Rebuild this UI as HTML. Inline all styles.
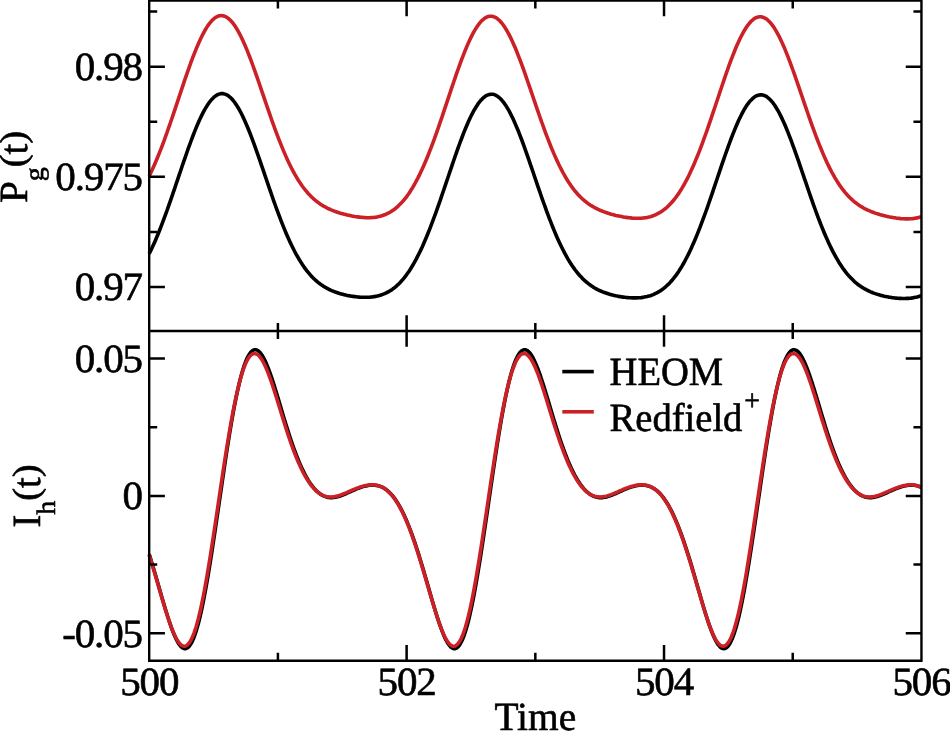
<!DOCTYPE html>
<html lang="en">
<head>
<meta charset="utf-8">
<title>HEOM vs Redfield+</title>
<style>
html,body{margin:0;padding:0;background:#fff;}
body{width:950px;height:731px;overflow:hidden;}
svg{display:block;}
text{font-family:"Liberation Serif",serif;font-size:40px;fill:#000;text-rendering:geometricPrecision;stroke:#000;stroke-width:0.6px;stroke-linejoin:round;}
.sub{font-size:26.5px;}
.sup{font-size:29px;}
.par{font-size:36.8px;}
.ax{stroke:#000;stroke-width:2.5;fill:none;stroke-linecap:butt;}
.fr{stroke:#000;stroke-width:2.4;fill:none;stroke-linejoin:miter;}
.cv{fill:none;stroke-width:3.6;stroke-linejoin:round;stroke-linecap:butt;}
</style>
</head>
<body>
<svg width="950" height="731" viewBox="0 0 950 731">
<rect width="950" height="731" fill="#fff"/>
<g>
<path class="cv" stroke="#000" d="M149.2 253.8 L150.7 250.8 L152.2 247.6 L153.7 244.3 L155.2 240.9 L156.7 237.3 L158.2 233.7 L159.7 230.0 L161.2 226.2 L162.7 222.2 L164.2 218.2 L165.7 214.1 L167.2 210.0 L168.7 205.7 L170.2 201.4 L171.7 197.1 L173.2 192.7 L174.7 188.3 L176.2 183.8 L177.7 179.4 L179.2 174.9 L180.7 170.5 L182.2 166.0 L183.7 161.6 L185.2 157.3 L186.7 153.0 L188.2 148.7 L189.7 144.6 L191.2 140.5 L192.7 136.5 L194.2 132.6 L195.7 128.9 L197.2 125.3 L198.7 121.8 L200.2 118.5 L201.7 115.4 L203.2 112.4 L204.7 109.6 L206.2 107.1 L207.7 104.7 L209.2 102.5 L210.7 100.6 L212.2 98.9 L213.7 97.4 L215.2 96.2 L216.7 95.2 L218.2 94.4 L219.7 93.9 L221.2 93.6 L222.7 93.6 L224.2 93.9 L225.7 94.4 L227.2 95.1 L228.7 96.1 L230.2 97.3 L231.7 98.8 L233.2 100.5 L234.7 102.5 L236.2 104.6 L237.7 107.0 L239.2 109.5 L240.7 112.3 L242.2 115.3 L243.7 118.4 L245.2 121.7 L246.7 125.2 L248.2 128.8 L249.7 132.5 L251.2 136.4 L252.7 140.3 L254.2 144.4 L255.7 148.6 L257.2 152.8 L258.7 157.1 L260.2 161.4 L261.7 165.8 L263.2 170.2 L264.7 174.6 L266.2 179.0 L267.7 183.4 L269.2 187.8 L270.7 192.2 L272.2 196.5 L273.7 200.8 L275.2 205.0 L276.7 209.1 L278.2 213.2 L279.7 217.2 L281.2 221.1 L282.7 224.9 L284.2 228.6 L285.7 232.2 L287.2 235.7 L288.7 239.1 L290.2 242.4 L291.7 245.5 L293.2 248.5 L294.7 251.5 L296.2 254.3 L297.7 256.9 L299.2 259.5 L300.7 261.9 L302.2 264.3 L303.7 266.5 L305.2 268.6 L306.7 270.6 L308.2 272.4 L309.7 274.2 L311.2 275.9 L312.7 277.5 L314.2 279.0 L315.7 280.3 L317.2 281.6 L318.7 282.9 L320.2 284.0 L321.7 285.1 L323.2 286.1 L324.7 287.0 L326.2 287.9 L327.7 288.7 L329.2 289.5 L330.7 290.2 L332.2 290.8 L333.7 291.4 L335.2 292.0 L336.7 292.5 L338.2 293.0 L339.7 293.5 L341.2 293.9 L342.7 294.3 L344.2 294.7 L345.7 295.1 L347.2 295.4 L348.7 295.7 L350.2 295.9 L351.7 296.2 L353.2 296.4 L354.7 296.6 L356.2 296.8 L357.7 297.0 L359.2 297.1 L360.7 297.2 L362.2 297.3 L363.7 297.3 L365.2 297.3 L366.7 297.3 L368.2 297.2 L369.7 297.2 L371.2 297.0 L372.7 296.9 L374.2 296.6 L375.7 296.4 L377.2 296.1 L378.7 295.7 L380.2 295.3 L381.7 294.8 L383.2 294.2 L384.7 293.6 L386.2 292.9 L387.7 292.1 L389.2 291.3 L390.7 290.4 L392.2 289.4 L393.7 288.3 L395.2 287.1 L396.7 285.8 L398.2 284.4 L399.7 282.9 L401.2 281.3 L402.7 279.6 L404.2 277.8 L405.7 275.9 L407.2 273.8 L408.7 271.7 L410.2 269.4 L411.7 267.0 L413.2 264.5 L414.7 261.8 L416.2 259.1 L417.7 256.2 L419.2 253.2 L420.7 250.1 L422.2 246.9 L423.7 243.5 L425.2 240.1 L426.7 236.5 L428.2 232.8 L429.7 229.1 L431.2 225.2 L432.7 221.2 L434.2 217.2 L435.7 213.1 L437.2 208.9 L438.7 204.6 L440.2 200.3 L441.7 195.9 L443.2 191.5 L444.7 187.1 L446.2 182.7 L447.7 178.2 L449.2 173.7 L450.7 169.3 L452.2 164.9 L453.7 160.5 L455.2 156.1 L456.7 151.9 L458.2 147.6 L459.7 143.5 L461.2 139.5 L462.7 135.5 L464.2 131.7 L465.7 128.0 L467.2 124.5 L468.7 121.1 L470.2 117.8 L471.7 114.8 L473.2 111.9 L474.7 109.2 L476.2 106.7 L477.7 104.4 L479.2 102.3 L480.7 100.5 L482.2 98.9 L483.7 97.5 L485.2 96.3 L486.7 95.4 L488.2 94.8 L489.7 94.4 L491.2 94.2 L492.7 94.3 L494.2 94.6 L495.7 95.2 L497.2 96.1 L498.7 97.2 L500.2 98.5 L501.7 100.1 L503.2 101.9 L504.7 103.9 L506.2 106.1 L507.7 108.6 L509.2 111.2 L510.7 114.1 L512.2 117.1 L513.7 120.3 L515.2 123.7 L516.7 127.2 L518.2 130.8 L519.7 134.6 L521.2 138.5 L522.7 142.5 L524.2 146.6 L525.7 150.8 L527.2 155.1 L528.7 159.4 L530.2 163.8 L531.7 168.1 L533.2 172.5 L534.7 177.0 L536.2 181.4 L537.7 185.8 L539.2 190.2 L540.7 194.5 L542.2 198.8 L543.7 203.0 L545.2 207.2 L546.7 211.3 L548.2 215.4 L549.7 219.3 L551.2 223.2 L552.7 227.0 L554.2 230.6 L555.7 234.2 L557.2 237.7 L558.7 241.0 L560.2 244.2 L561.7 247.3 L563.2 250.3 L564.7 253.2 L566.2 255.9 L567.7 258.6 L569.2 261.1 L570.7 263.5 L572.2 265.8 L573.7 267.9 L575.2 270.0 L576.7 271.9 L578.2 273.8 L579.7 275.5 L581.2 277.1 L582.7 278.7 L584.2 280.1 L585.7 281.5 L587.2 282.7 L588.7 283.9 L590.2 285.0 L591.7 286.1 L593.2 287.1 L594.7 288.0 L596.2 288.8 L597.7 289.6 L599.2 290.3 L600.7 291.0 L602.2 291.7 L603.7 292.3 L605.2 292.8 L606.7 293.3 L608.2 293.8 L609.7 294.3 L611.2 294.7 L612.7 295.1 L614.2 295.4 L615.7 295.8 L617.2 296.1 L618.7 296.4 L620.2 296.6 L621.7 296.9 L623.2 297.1 L624.7 297.3 L626.2 297.5 L627.7 297.6 L629.2 297.7 L630.7 297.8 L632.2 297.9 L633.7 297.9 L635.2 297.9 L636.7 297.9 L638.2 297.8 L639.7 297.7 L641.2 297.6 L642.7 297.4 L644.2 297.1 L645.7 296.8 L647.2 296.5 L648.7 296.1 L650.2 295.7 L651.7 295.2 L653.2 294.6 L654.7 293.9 L656.2 293.2 L657.7 292.4 L659.2 291.5 L660.7 290.6 L662.2 289.5 L663.7 288.4 L665.2 287.2 L666.7 285.8 L668.2 284.4 L669.7 282.9 L671.2 281.2 L672.7 279.5 L674.2 277.6 L675.7 275.7 L677.2 273.6 L678.7 271.4 L680.2 269.0 L681.7 266.6 L683.2 264.0 L684.7 261.3 L686.2 258.5 L687.7 255.6 L689.2 252.6 L690.7 249.4 L692.2 246.1 L693.7 242.7 L695.2 239.2 L696.7 235.6 L698.2 231.9 L699.7 228.1 L701.2 224.2 L702.7 220.2 L704.2 216.1 L705.7 212.0 L707.2 207.8 L708.7 203.5 L710.2 199.2 L711.7 194.8 L713.2 190.4 L714.7 185.9 L716.2 181.5 L717.7 177.0 L719.2 172.6 L720.7 168.1 L722.2 163.7 L723.7 159.3 L725.2 155.0 L726.7 150.8 L728.2 146.6 L729.7 142.5 L731.2 138.5 L732.7 134.6 L734.2 130.8 L735.7 127.2 L737.2 123.7 L738.7 120.3 L740.2 117.2 L741.7 114.2 L743.2 111.4 L744.7 108.7 L746.2 106.3 L747.7 104.1 L749.2 102.1 L750.7 100.4 L752.2 98.9 L753.7 97.6 L755.2 96.5 L756.7 95.7 L758.2 95.2 L759.7 94.9 L761.2 94.8 L762.7 95.0 L764.2 95.4 L765.7 96.1 L767.2 97.1 L768.7 98.3 L770.2 99.7 L771.7 101.4 L773.2 103.2 L774.7 105.3 L776.2 107.7 L777.7 110.2 L779.2 112.9 L780.7 115.9 L782.2 118.9 L783.7 122.2 L785.2 125.6 L786.7 129.2 L788.2 132.9 L789.7 136.8 L791.2 140.7 L792.7 144.8 L794.2 148.9 L795.7 153.1 L797.2 157.4 L798.7 161.7 L800.2 166.1 L801.7 170.5 L803.2 174.9 L804.7 179.3 L806.2 183.7 L807.7 188.1 L809.2 192.5 L810.7 196.8 L812.2 201.1 L813.7 205.3 L815.2 209.5 L816.7 213.6 L818.2 217.6 L819.7 221.5 L821.2 225.3 L822.7 229.0 L824.2 232.7 L825.7 236.2 L827.2 239.6 L828.7 242.9 L830.2 246.1 L831.7 249.1 L833.2 252.1 L834.7 254.9 L836.2 257.6 L837.7 260.2 L839.2 262.7 L840.7 265.0 L842.2 267.2 L843.7 269.4 L845.2 271.4 L846.7 273.3 L848.2 275.1 L849.7 276.8 L851.2 278.3 L852.7 279.8 L854.2 281.3 L855.7 282.6 L857.2 283.8 L858.7 285.0 L860.2 286.1 L861.7 287.1 L863.2 288.0 L864.7 288.9 L866.2 289.7 L867.7 290.5 L869.2 291.2 L870.7 291.9 L872.2 292.5 L873.7 293.1 L875.2 293.6 L876.7 294.1 L878.2 294.6 L879.7 295.0 L881.2 295.4 L882.7 295.8 L884.2 296.2 L885.7 296.5 L887.2 296.8 L888.7 297.1 L890.2 297.3 L891.7 297.6 L893.2 297.8 L894.7 298.0 L896.2 298.1 L897.7 298.2 L899.2 298.4 L900.7 298.4 L902.2 298.5 L903.7 298.5 L905.2 298.5 L906.7 298.4 L908.2 298.4 L909.7 298.2 L911.2 298.1 L912.7 297.9 L914.2 297.6 L915.7 297.3 L917.2 297.0 L918.7 296.5 L920.2 296.1 L921.5 295.6"/>
<path class="cv" stroke="#cc2027" d="M149.2 176.0 L150.7 172.9 L152.2 169.8 L153.7 166.5 L155.2 163.1 L156.7 159.5 L158.2 155.9 L159.7 152.1 L161.2 148.3 L162.7 144.3 L164.2 140.3 L165.7 136.2 L167.2 132.0 L168.7 127.7 L170.2 123.4 L171.7 119.0 L173.2 114.6 L174.7 110.1 L176.2 105.6 L177.7 101.1 L179.2 96.6 L180.7 92.1 L182.2 87.6 L183.7 83.1 L185.2 78.7 L186.7 74.4 L188.2 70.1 L189.7 65.9 L191.2 61.7 L192.7 57.7 L194.2 53.8 L195.7 50.1 L197.2 46.4 L198.7 43.0 L200.2 39.7 L201.7 36.5 L203.2 33.6 L204.7 30.8 L206.2 28.3 L207.7 25.9 L209.2 23.8 L210.7 21.9 L212.2 20.3 L213.7 18.9 L215.2 17.7 L216.7 16.8 L218.2 16.1 L219.7 15.7 L221.2 15.6 L222.7 15.7 L224.2 16.1 L225.7 16.7 L227.2 17.6 L228.7 18.7 L230.2 20.1 L231.7 21.7 L233.2 23.5 L234.7 25.6 L236.2 27.9 L237.7 30.4 L239.2 33.1 L240.7 36.0 L242.2 39.1 L243.7 42.4 L245.2 45.8 L246.7 49.4 L248.2 53.1 L249.7 57.0 L251.2 60.9 L252.7 65.0 L254.2 69.2 L255.7 73.4 L257.2 77.7 L258.7 82.0 L260.2 86.4 L261.7 90.8 L263.2 95.2 L264.7 99.6 L266.2 104.0 L267.7 108.4 L269.2 112.7 L270.7 117.0 L272.2 121.3 L273.7 125.5 L275.2 129.6 L276.7 133.6 L278.2 137.6 L279.7 141.4 L281.2 145.2 L282.7 148.9 L284.2 152.4 L285.7 155.9 L287.2 159.2 L288.7 162.4 L290.2 165.5 L291.7 168.5 L293.2 171.3 L294.7 174.1 L296.2 176.7 L297.7 179.2 L299.2 181.6 L300.7 183.8 L302.2 186.0 L303.7 188.0 L305.2 189.9 L306.7 191.7 L308.2 193.5 L309.7 195.1 L311.2 196.6 L312.7 198.0 L314.2 199.4 L315.7 200.6 L317.2 201.8 L318.7 202.9 L320.2 204.0 L321.7 205.0 L323.2 205.9 L324.7 206.7 L326.2 207.5 L327.7 208.3 L329.2 209.0 L330.7 209.7 L332.2 210.3 L333.7 210.9 L335.2 211.5 L336.7 212.0 L338.2 212.5 L339.7 213.0 L341.2 213.4 L342.7 213.8 L344.2 214.2 L345.7 214.6 L347.2 215.0 L348.7 215.3 L350.2 215.6 L351.7 215.9 L353.2 216.2 L354.7 216.5 L356.2 216.7 L357.7 216.9 L359.2 217.1 L360.7 217.3 L362.2 217.4 L363.7 217.5 L365.2 217.6 L366.7 217.7 L368.2 217.7 L369.7 217.7 L371.2 217.6 L372.7 217.5 L374.2 217.4 L375.7 217.2 L377.2 216.9 L378.7 216.6 L380.2 216.2 L381.7 215.8 L383.2 215.3 L384.7 214.8 L386.2 214.1 L387.7 213.4 L389.2 212.7 L390.7 211.8 L392.2 210.8 L393.7 209.8 L395.2 208.7 L396.7 207.4 L398.2 206.1 L399.7 204.6 L401.2 203.1 L402.7 201.4 L404.2 199.7 L405.7 197.8 L407.2 195.8 L408.7 193.7 L410.2 191.4 L411.7 189.1 L413.2 186.6 L414.7 184.0 L416.2 181.2 L417.7 178.4 L419.2 175.4 L420.7 172.3 L422.2 169.1 L423.7 165.7 L425.2 162.3 L426.7 158.7 L428.2 155.0 L429.7 151.2 L431.2 147.3 L432.7 143.3 L434.2 139.3 L435.7 135.1 L437.2 130.9 L438.7 126.6 L440.2 122.2 L441.7 117.8 L443.2 113.4 L444.7 108.9 L446.2 104.4 L447.7 99.9 L449.2 95.4 L450.7 90.9 L452.2 86.4 L453.7 82.0 L455.2 77.6 L456.7 73.2 L458.2 69.0 L459.7 64.8 L461.2 60.7 L462.7 56.8 L464.2 52.9 L465.7 49.2 L467.2 45.6 L468.7 42.2 L470.2 39.0 L471.7 35.9 L473.2 33.0 L474.7 30.4 L476.2 27.9 L477.7 25.7 L479.2 23.6 L480.7 21.8 L482.2 20.3 L483.7 19.0 L485.2 17.9 L486.7 17.1 L488.2 16.5 L489.7 16.2 L491.2 16.2 L492.7 16.4 L494.2 16.9 L495.7 17.6 L497.2 18.6 L498.7 19.8 L500.2 21.3 L501.7 23.0 L503.2 24.9 L504.7 27.1 L506.2 29.5 L507.7 32.1 L509.2 34.9 L510.7 37.9 L512.2 41.0 L513.7 44.4 L515.2 47.8 L516.7 51.5 L518.2 55.3 L519.7 59.2 L521.2 63.2 L522.7 67.2 L524.2 71.4 L525.7 75.7 L527.2 80.0 L528.7 84.3 L530.2 88.7 L531.7 93.1 L533.2 97.5 L534.7 101.9 L536.2 106.3 L537.7 110.7 L539.2 115.0 L540.7 119.3 L542.2 123.5 L543.7 127.7 L545.2 131.8 L546.7 135.8 L548.2 139.7 L549.7 143.5 L551.2 147.3 L552.7 150.9 L554.2 154.4 L555.7 157.8 L557.2 161.1 L558.7 164.3 L560.2 167.3 L561.7 170.2 L563.2 173.0 L564.7 175.7 L566.2 178.3 L567.7 180.7 L569.2 183.1 L570.7 185.3 L572.2 187.4 L573.7 189.4 L575.2 191.3 L576.7 193.0 L578.2 194.7 L579.7 196.3 L581.2 197.8 L582.7 199.2 L584.2 200.5 L585.7 201.7 L587.2 202.9 L588.7 204.0 L590.2 205.0 L591.7 205.9 L593.2 206.8 L594.7 207.7 L596.2 208.4 L597.7 209.2 L599.2 209.9 L600.7 210.5 L602.2 211.1 L603.7 211.7 L605.2 212.3 L606.7 212.8 L608.2 213.3 L609.7 213.7 L611.2 214.2 L612.7 214.6 L614.2 215.0 L615.7 215.4 L617.2 215.7 L618.7 216.0 L620.2 216.3 L621.7 216.6 L623.2 216.9 L624.7 217.2 L626.2 217.4 L627.7 217.6 L629.2 217.8 L630.7 217.9 L632.2 218.1 L633.7 218.2 L635.2 218.2 L636.7 218.3 L638.2 218.3 L639.7 218.2 L641.2 218.2 L642.7 218.0 L644.2 217.9 L645.7 217.7 L647.2 217.4 L648.7 217.1 L650.2 216.7 L651.7 216.2 L653.2 215.7 L654.7 215.1 L656.2 214.5 L657.7 213.7 L659.2 212.9 L660.7 212.0 L662.2 211.0 L663.7 209.9 L665.2 208.8 L666.7 207.5 L668.2 206.1 L669.7 204.6 L671.2 203.0 L672.7 201.3 L674.2 199.5 L675.7 197.6 L677.2 195.5 L678.7 193.4 L680.2 191.1 L681.7 188.7 L683.2 186.1 L684.7 183.5 L686.2 180.7 L687.7 177.8 L689.2 174.8 L690.7 171.6 L692.2 168.3 L693.7 164.9 L695.2 161.4 L696.7 157.8 L698.2 154.1 L699.7 150.3 L701.2 146.3 L702.7 142.3 L704.2 138.2 L705.7 134.0 L707.2 129.8 L708.7 125.4 L710.2 121.1 L711.7 116.6 L713.2 112.2 L714.7 107.7 L716.2 103.2 L717.7 98.7 L719.2 94.2 L720.7 89.7 L722.2 85.2 L723.7 80.8 L725.2 76.4 L726.7 72.1 L728.2 67.9 L729.7 63.7 L731.2 59.7 L732.7 55.8 L734.2 52.0 L735.7 48.3 L737.2 44.8 L738.7 41.5 L740.2 38.3 L741.7 35.3 L743.2 32.5 L744.7 29.9 L746.2 27.6 L747.7 25.4 L749.2 23.5 L750.7 21.8 L752.2 20.3 L753.7 19.1 L755.2 18.1 L756.7 17.4 L758.2 17.0 L759.7 16.8 L761.2 16.8 L762.7 17.2 L764.2 17.7 L765.7 18.6 L767.2 19.6 L768.7 21.0 L770.2 22.5 L771.7 24.3 L773.2 26.4 L774.7 28.6 L776.2 31.1 L777.7 33.8 L779.2 36.6 L780.7 39.7 L782.2 42.9 L783.7 46.3 L785.2 49.9 L786.7 53.6 L788.2 57.4 L789.7 61.3 L791.2 65.4 L792.7 69.5 L794.2 73.7 L795.7 78.0 L797.2 82.3 L798.7 86.7 L800.2 91.1 L801.7 95.5 L803.2 99.9 L804.7 104.3 L806.2 108.7 L807.7 113.0 L809.2 117.3 L810.7 121.6 L812.2 125.8 L813.7 129.9 L815.2 134.0 L816.7 138.0 L818.2 141.9 L819.7 145.6 L821.2 149.3 L822.7 152.9 L824.2 156.4 L825.7 159.7 L827.2 163.0 L828.7 166.1 L830.2 169.1 L831.7 172.0 L833.2 174.7 L834.7 177.4 L836.2 179.9 L837.7 182.3 L839.2 184.6 L840.7 186.7 L842.2 188.8 L843.7 190.7 L845.2 192.6 L846.7 194.3 L848.2 195.9 L849.7 197.5 L851.2 198.9 L852.7 200.3 L854.2 201.6 L855.7 202.8 L857.2 203.9 L858.7 205.0 L860.2 206.0 L861.7 206.9 L863.2 207.8 L864.7 208.6 L866.2 209.3 L867.7 210.1 L869.2 210.7 L870.7 211.4 L872.2 212.0 L873.7 212.5 L875.2 213.1 L876.7 213.6 L878.2 214.0 L879.7 214.5 L881.2 214.9 L882.7 215.3 L884.2 215.7 L885.7 216.1 L887.2 216.4 L888.7 216.8 L890.2 217.1 L891.7 217.3 L893.2 217.6 L894.7 217.8 L896.2 218.1 L897.7 218.3 L899.2 218.4 L900.7 218.6 L902.2 218.7 L903.7 218.8 L905.2 218.9 L906.7 218.9 L908.2 218.9 L909.7 218.8 L911.2 218.7 L912.7 218.6 L914.2 218.4 L915.7 218.1 L917.2 217.9 L918.7 217.5 L920.2 217.1 L921.5 216.7"/>
</g>
<g>
<path class="cv" stroke="#000" d="M149.2 554.2 L150.2 557.4 L151.2 560.7 L152.2 564.0 L153.2 567.3 L154.2 570.7 L155.2 574.1 L156.2 577.6 L157.2 581.0 L158.2 584.5 L159.2 588.0 L160.2 591.5 L161.2 594.9 L162.2 598.4 L163.2 601.8 L164.2 605.2 L165.2 608.5 L166.2 611.8 L167.2 615.1 L168.2 618.2 L169.2 621.3 L170.2 624.2 L171.2 627.1 L172.2 629.8 L173.2 632.4 L174.2 634.8 L175.2 637.1 L176.2 639.2 L177.2 641.1 L178.2 642.9 L179.2 644.4 L180.2 645.7 L181.2 646.8 L182.2 647.6 L183.2 648.2 L184.2 648.6 L185.2 648.7 L186.2 648.5 L187.2 648.0 L188.2 647.3 L189.2 646.2 L190.2 644.9 L191.2 643.3 L192.2 641.4 L193.2 639.3 L194.2 636.8 L195.2 634.0 L196.2 631.0 L197.2 627.6 L198.2 624.0 L199.2 620.2 L200.2 616.0 L201.2 611.6 L202.2 607.0 L203.2 602.1 L204.2 597.0 L205.2 591.7 L206.2 586.2 L207.2 580.5 L208.2 574.6 L209.2 568.6 L210.2 562.4 L211.2 556.1 L212.2 549.7 L213.2 543.1 L214.2 536.5 L215.2 529.8 L216.2 523.1 L217.2 516.3 L218.2 509.5 L219.2 502.6 L220.2 495.8 L221.2 488.9 L222.2 482.0 L223.2 475.2 L224.2 468.4 L225.2 461.7 L226.2 455.1 L227.2 448.6 L228.2 442.2 L229.2 436.0 L230.2 429.9 L231.2 424.0 L232.2 418.2 L233.2 412.6 L234.2 407.2 L235.2 402.1 L236.2 397.1 L237.2 392.3 L238.2 387.8 L239.2 383.5 L240.2 379.4 L241.2 375.6 L242.2 372.0 L243.2 368.7 L244.2 365.6 L245.2 362.9 L246.2 360.3 L247.2 358.1 L248.2 356.1 L249.2 354.4 L250.2 352.9 L251.2 351.8 L252.2 350.9 L253.2 350.2 L254.2 349.8 L255.2 349.7 L256.2 349.8 L257.2 350.2 L258.2 350.8 L259.2 351.6 L260.2 352.7 L261.2 354.0 L262.2 355.5 L263.2 357.1 L264.2 359.0 L265.2 361.1 L266.2 363.3 L267.2 365.6 L268.2 368.1 L269.2 370.8 L270.2 373.5 L271.2 376.4 L272.2 379.4 L273.2 382.4 L274.2 385.6 L275.2 388.8 L276.2 392.0 L277.2 395.3 L278.2 398.6 L279.2 402.0 L280.2 405.3 L281.2 408.7 L282.2 412.0 L283.2 415.4 L284.2 418.7 L285.2 422.0 L286.2 425.2 L287.2 428.4 L288.2 431.6 L289.2 434.7 L290.2 437.8 L291.2 440.8 L292.2 443.7 L293.2 446.5 L294.2 449.3 L295.2 452.0 L296.2 454.7 L297.2 457.2 L298.2 459.7 L299.2 462.1 L300.2 464.4 L301.2 466.7 L302.2 468.9 L303.2 470.9 L304.2 472.9 L305.2 474.8 L306.2 476.7 L307.2 478.4 L308.2 480.1 L309.2 481.7 L310.2 483.2 L311.2 484.6 L312.2 486.0 L313.2 487.2 L314.2 488.4 L315.2 489.5 L316.2 490.6 L317.2 491.5 L318.2 492.4 L319.2 493.2 L320.2 494.0 L321.2 494.6 L322.2 495.2 L323.2 495.8 L324.2 496.2 L325.2 496.6 L326.2 496.9 L327.2 497.2 L328.2 497.4 L329.2 497.5 L330.2 497.6 L331.2 497.6 L332.2 497.6 L333.2 497.5 L334.2 497.4 L335.2 497.3 L336.2 497.1 L337.2 496.9 L338.2 496.6 L339.2 496.3 L340.2 496.0 L341.2 495.6 L342.2 495.3 L343.2 494.9 L344.2 494.4 L345.2 494.0 L346.2 493.6 L347.2 493.1 L348.2 492.7 L349.2 492.2 L350.2 491.8 L351.2 491.3 L352.2 490.9 L353.2 490.4 L354.2 490.0 L355.2 489.6 L356.2 489.1 L357.2 488.7 L358.2 488.3 L359.2 488.0 L360.2 487.6 L361.2 487.3 L362.2 486.9 L363.2 486.6 L364.2 486.3 L365.2 486.1 L366.2 485.9 L367.2 485.7 L368.2 485.5 L369.2 485.3 L370.2 485.2 L371.2 485.2 L372.2 485.1 L373.2 485.1 L374.2 485.2 L375.2 485.2 L376.2 485.4 L377.2 485.5 L378.2 485.8 L379.2 486.0 L380.2 486.4 L381.2 486.8 L382.2 487.2 L383.2 487.7 L384.2 488.3 L385.2 488.9 L386.2 489.6 L387.2 490.4 L388.2 491.3 L389.2 492.2 L390.2 493.2 L391.2 494.3 L392.2 495.4 L393.2 496.6 L394.2 497.9 L395.2 499.3 L396.2 500.8 L397.2 502.3 L398.2 503.9 L399.2 505.6 L400.2 507.4 L401.2 509.3 L402.2 511.2 L403.2 513.2 L404.2 515.3 L405.2 517.5 L406.2 519.8 L407.2 522.2 L408.2 524.6 L409.2 527.1 L410.2 529.7 L411.2 532.4 L412.2 535.1 L413.2 537.9 L414.2 540.8 L415.2 543.7 L416.2 546.7 L417.2 549.8 L418.2 552.9 L419.2 556.1 L420.2 559.4 L421.2 562.7 L422.2 566.0 L423.2 569.3 L424.2 572.8 L425.2 576.2 L426.2 579.6 L427.2 583.1 L428.2 586.6 L429.2 590.1 L430.2 593.5 L431.2 597.0 L432.2 600.4 L433.2 603.8 L434.2 607.2 L435.2 610.5 L436.2 613.8 L437.2 617.0 L438.2 620.0 L439.2 623.0 L440.2 625.9 L441.2 628.7 L442.2 631.4 L443.2 633.9 L444.2 636.2 L445.2 638.4 L446.2 640.4 L447.2 642.2 L448.2 643.8 L449.2 645.2 L450.2 646.4 L451.2 647.3 L452.2 648.0 L453.2 648.5 L454.2 648.7 L455.2 648.6 L456.2 648.2 L457.2 647.6 L458.2 646.7 L459.2 645.5 L460.2 644.0 L461.2 642.2 L462.2 640.2 L463.2 637.8 L464.2 635.2 L465.2 632.2 L466.2 629.0 L467.2 625.5 L468.2 621.7 L469.2 617.7 L470.2 613.4 L471.2 608.9 L472.2 604.1 L473.2 599.1 L474.2 593.9 L475.2 588.4 L476.2 582.8 L477.2 577.0 L478.2 571.0 L479.2 564.9 L480.2 558.6 L481.2 552.3 L482.2 545.8 L483.2 539.2 L484.2 532.5 L485.2 525.8 L486.2 519.0 L487.2 512.2 L488.2 505.4 L489.2 498.5 L490.2 491.7 L491.2 484.8 L492.2 477.9 L493.2 471.1 L494.2 464.4 L495.2 457.7 L496.2 451.2 L497.2 444.8 L498.2 438.5 L499.2 432.3 L500.2 426.3 L501.2 420.5 L502.2 414.8 L503.2 409.4 L504.2 404.1 L505.2 399.0 L506.2 394.2 L507.2 389.6 L508.2 385.1 L509.2 381.0 L510.2 377.1 L511.2 373.4 L512.2 370.0 L513.2 366.8 L514.2 363.9 L515.2 361.3 L516.2 359.0 L517.2 356.9 L518.2 355.0 L519.2 353.5 L520.2 352.2 L521.2 351.2 L522.2 350.5 L523.2 350.0 L524.2 349.7 L525.2 349.8 L526.2 350.0 L527.2 350.5 L528.2 351.3 L529.2 352.3 L530.2 353.4 L531.2 354.8 L532.2 356.4 L533.2 358.2 L534.2 360.2 L535.2 362.4 L536.2 364.7 L537.2 367.1 L538.2 369.7 L539.2 372.4 L540.2 375.2 L541.2 378.2 L542.2 381.2 L543.2 384.3 L544.2 387.5 L545.2 390.7 L546.2 394.0 L547.2 397.3 L548.2 400.6 L549.2 404.0 L550.2 407.3 L551.2 410.7 L552.2 414.0 L553.2 417.4 L554.2 420.7 L555.2 423.9 L556.2 427.2 L557.2 430.3 L558.2 433.5 L559.2 436.5 L560.2 439.6 L561.2 442.5 L562.2 445.4 L563.2 448.2 L564.2 451.0 L565.2 453.6 L566.2 456.2 L567.2 458.7 L568.2 461.2 L569.2 463.5 L570.2 465.8 L571.2 468.0 L572.2 470.1 L573.2 472.1 L574.2 474.1 L575.2 476.0 L576.2 477.7 L577.2 479.4 L578.2 481.1 L579.2 482.6 L580.2 484.1 L581.2 485.4 L582.2 486.7 L583.2 488.0 L584.2 489.1 L585.2 490.2 L586.2 491.2 L587.2 492.1 L588.2 492.9 L589.2 493.7 L590.2 494.4 L591.2 495.0 L592.2 495.6 L593.2 496.0 L594.2 496.4 L595.2 496.8 L596.2 497.1 L597.2 497.3 L598.2 497.5 L599.2 497.6 L600.2 497.6 L601.2 497.6 L602.2 497.6 L603.2 497.5 L604.2 497.3 L605.2 497.2 L606.2 497.0 L607.2 496.7 L608.2 496.4 L609.2 496.1 L610.2 495.8 L611.2 495.4 L612.2 495.0 L613.2 494.6 L614.2 494.2 L615.2 493.8 L616.2 493.3 L617.2 492.9 L618.2 492.4 L619.2 492.0 L620.2 491.5 L621.2 491.1 L622.2 490.6 L623.2 490.2 L624.2 489.7 L625.2 489.3 L626.2 488.9 L627.2 488.5 L628.2 488.1 L629.2 487.7 L630.2 487.4 L631.2 487.1 L632.2 486.7 L633.2 486.5 L634.2 486.2 L635.2 485.9 L636.2 485.7 L637.2 485.5 L638.2 485.4 L639.2 485.3 L640.2 485.2 L641.2 485.1 L642.2 485.1 L643.2 485.1 L644.2 485.2 L645.2 485.3 L646.2 485.5 L647.2 485.7 L648.2 485.9 L649.2 486.2 L650.2 486.6 L651.2 487.0 L652.2 487.5 L653.2 488.1 L654.2 488.7 L655.2 489.4 L656.2 490.1 L657.2 490.9 L658.2 491.8 L659.2 492.8 L660.2 493.8 L661.2 494.9 L662.2 496.1 L663.2 497.4 L664.2 498.7 L665.2 500.2 L666.2 501.7 L667.2 503.3 L668.2 504.9 L669.2 506.7 L670.2 508.5 L671.2 510.4 L672.2 512.4 L673.2 514.5 L674.2 516.7 L675.2 518.9 L676.2 521.2 L677.2 523.6 L678.2 526.1 L679.2 528.7 L680.2 531.3 L681.2 534.0 L682.2 536.8 L683.2 539.6 L684.2 542.6 L685.2 545.5 L686.2 548.6 L687.2 551.7 L688.2 554.8 L689.2 558.1 L690.2 561.3 L691.2 564.6 L692.2 568.0 L693.2 571.4 L694.2 574.8 L695.2 578.3 L696.2 581.7 L697.2 585.2 L698.2 588.7 L699.2 592.1 L700.2 595.6 L701.2 599.1 L702.2 602.5 L703.2 605.9 L704.2 609.2 L705.2 612.5 L706.2 615.7 L707.2 618.8 L708.2 621.9 L709.2 624.8 L710.2 627.6 L711.2 630.3 L712.2 632.9 L713.2 635.3 L714.2 637.5 L715.2 639.6 L716.2 641.5 L717.2 643.2 L718.2 644.7 L719.2 645.9 L720.2 647.0 L721.2 647.8 L722.2 648.3 L723.2 648.6 L724.2 648.6 L725.2 648.4 L726.2 647.9 L727.2 647.1 L728.2 646.0 L729.2 644.6 L730.2 643.0 L731.2 641.0 L732.2 638.8 L733.2 636.2 L734.2 633.4 L735.2 630.3 L736.2 626.9 L737.2 623.3 L738.2 619.3 L739.2 615.2 L740.2 610.7 L741.2 606.0 L742.2 601.1 L743.2 596.0 L744.2 590.6 L745.2 585.1 L746.2 579.3 L747.2 573.4 L748.2 567.4 L749.2 561.2 L750.2 554.8 L751.2 548.4 L752.2 541.8 L753.2 535.2 L754.2 528.5 L755.2 521.7 L756.2 514.9 L757.2 508.1 L758.2 501.3 L759.2 494.4 L760.2 487.5 L761.2 480.6 L762.2 473.8 L763.2 467.0 L764.2 460.4 L765.2 453.8 L766.2 447.3 L767.2 441.0 L768.2 434.8 L769.2 428.7 L770.2 422.8 L771.2 417.1 L772.2 411.5 L773.2 406.2 L774.2 401.0 L775.2 396.1 L776.2 391.4 L777.2 386.9 L778.2 382.6 L779.2 378.6 L780.2 374.8 L781.2 371.3 L782.2 368.1 L783.2 365.1 L784.2 362.3 L785.2 359.9 L786.2 357.7 L787.2 355.7 L788.2 354.1 L789.2 352.7 L790.2 351.6 L791.2 350.7 L792.2 350.1 L793.2 349.8 L794.2 349.7 L795.2 349.9 L796.2 350.3 L797.2 351.0 L798.2 351.8 L799.2 352.9 L800.2 354.3 L801.2 355.8 L802.2 357.5 L803.2 359.4 L804.2 361.5 L805.2 363.7 L806.2 366.1 L807.2 368.7 L808.2 371.3 L809.2 374.1 L810.2 377.0 L811.2 380.0 L812.2 383.1 L813.2 386.2 L814.2 389.4 L815.2 392.7 L816.2 396.0 L817.2 399.3 L818.2 402.6 L819.2 406.0 L820.2 409.3 L821.2 412.7 L822.2 416.0 L823.2 419.3 L824.2 422.6 L825.2 425.9 L826.2 429.1 L827.2 432.2 L828.2 435.3 L829.2 438.4 L830.2 441.3 L831.2 444.3 L832.2 447.1 L833.2 449.9 L834.2 452.6 L835.2 455.2 L836.2 457.7 L837.2 460.2 L838.2 462.6 L839.2 464.9 L840.2 467.1 L841.2 469.3 L842.2 471.3 L843.2 473.3 L844.2 475.2 L845.2 477.0 L846.2 478.8 L847.2 480.4 L848.2 482.0 L849.2 483.5 L850.2 484.9 L851.2 486.2 L852.2 487.5 L853.2 488.7 L854.2 489.8 L855.2 490.8 L856.2 491.7 L857.2 492.6 L858.2 493.4 L859.2 494.1 L860.2 494.8 L861.2 495.3 L862.2 495.9 L863.2 496.3 L864.2 496.7 L865.2 497.0 L866.2 497.2 L867.2 497.4 L868.2 497.5 L869.2 497.6 L870.2 497.6 L871.2 497.6 L872.2 497.5 L873.2 497.4 L874.2 497.2 L875.2 497.0 L876.2 496.8 L877.2 496.5 L878.2 496.2 L879.2 495.9 L880.2 495.6 L881.2 495.2 L882.2 494.8 L883.2 494.4 L884.2 493.9 L885.2 493.5 L886.2 493.1 L887.2 492.6 L888.2 492.1 L889.2 491.7 L890.2 491.2 L891.2 490.8 L892.2 490.3 L893.2 489.9 L894.2 489.5 L895.2 489.1 L896.2 488.7 L897.2 488.3 L898.2 487.9 L899.2 487.5 L900.2 487.2 L901.2 486.9 L902.2 486.6 L903.2 486.3 L904.2 486.0 L905.2 485.8 L906.2 485.6 L907.2 485.5 L908.2 485.3 L909.2 485.2 L910.2 485.1 L911.2 485.1 L912.2 485.1 L913.2 485.2 L914.2 485.3 L915.2 485.4 L916.2 485.6 L917.2 485.8 L918.2 486.1 L919.2 486.5 L920.2 486.9 L921.2 487.3 L921.5 487.4"/>
<path class="cv" stroke="#cc2027" d="M149.2 555.1 L150.2 558.3 L151.2 561.6 L152.2 564.9 L153.2 568.2 L154.2 571.6 L155.2 575.0 L156.2 578.4 L157.2 581.8 L158.2 585.3 L159.2 588.7 L160.2 592.1 L161.2 595.5 L162.2 598.9 L163.2 602.3 L164.2 605.6 L165.2 608.9 L166.2 612.1 L167.2 615.2 L168.2 618.3 L169.2 621.2 L170.2 624.1 L171.2 626.8 L172.2 629.4 L173.2 631.9 L174.2 634.2 L175.2 636.3 L176.2 638.3 L177.2 640.0 L178.2 641.6 L179.2 643.0 L180.2 644.1 L181.2 645.0 L182.2 645.7 L183.2 646.1 L184.2 646.3 L185.2 646.2 L186.2 645.8 L187.2 645.1 L188.2 644.2 L189.2 643.0 L190.2 641.5 L191.2 639.7 L192.2 637.6 L193.2 635.3 L194.2 632.6 L195.2 629.7 L196.2 626.5 L197.2 623.0 L198.2 619.3 L199.2 615.2 L200.2 611.0 L201.2 606.5 L202.2 601.7 L203.2 596.8 L204.2 591.6 L205.2 586.2 L206.2 580.6 L207.2 574.9 L208.2 568.9 L209.2 562.9 L210.2 556.7 L211.2 550.3 L212.2 543.9 L213.2 537.4 L214.2 530.8 L215.2 524.2 L216.2 517.5 L217.2 510.7 L218.2 504.0 L219.2 497.2 L220.2 490.5 L221.2 483.8 L222.2 477.2 L223.2 470.6 L224.2 464.1 L225.2 457.6 L226.2 451.3 L227.2 445.1 L228.2 439.0 L229.2 433.1 L230.2 427.3 L231.2 421.6 L232.2 416.2 L233.2 410.9 L234.2 405.8 L235.2 400.9 L236.2 396.2 L237.2 391.7 L238.2 387.5 L239.2 383.5 L240.2 379.7 L241.2 376.1 L242.2 372.9 L243.2 369.8 L244.2 367.0 L245.2 364.5 L246.2 362.3 L247.2 360.3 L248.2 358.5 L249.2 357.0 L250.2 355.8 L251.2 354.9 L252.2 354.2 L253.2 353.7 L254.2 353.5 L255.2 353.6 L256.2 353.9 L257.2 354.4 L258.2 355.1 L259.2 356.1 L260.2 357.3 L261.2 358.6 L262.2 360.2 L263.2 362.0 L264.2 363.9 L265.2 366.0 L266.2 368.2 L267.2 370.6 L268.2 373.2 L269.2 375.8 L270.2 378.6 L271.2 381.4 L272.2 384.4 L273.2 387.4 L274.2 390.5 L275.2 393.6 L276.2 396.8 L277.2 400.0 L278.2 403.2 L279.2 406.5 L280.2 409.7 L281.2 413.0 L282.2 416.2 L283.2 419.4 L284.2 422.6 L285.2 425.8 L286.2 428.9 L287.2 432.0 L288.2 435.1 L289.2 438.0 L290.2 441.0 L291.2 443.8 L292.2 446.6 L293.2 449.3 L294.2 452.0 L295.2 454.6 L296.2 457.1 L297.2 459.5 L298.2 461.9 L299.2 464.1 L300.2 466.3 L301.2 468.5 L302.2 470.5 L303.2 472.5 L304.2 474.3 L305.2 476.1 L306.2 477.9 L307.2 479.5 L308.2 481.1 L309.2 482.6 L310.2 484.0 L311.2 485.3 L312.2 486.5 L313.2 487.7 L314.2 488.8 L315.2 489.9 L316.2 490.8 L317.2 491.7 L318.2 492.5 L319.2 493.2 L320.2 493.9 L321.2 494.5 L322.2 495.0 L323.2 495.5 L324.2 495.9 L325.2 496.2 L326.2 496.5 L327.2 496.7 L328.2 496.9 L329.2 497.0 L330.2 497.0 L331.2 497.0 L332.2 497.0 L333.2 496.9 L334.2 496.7 L335.2 496.5 L336.2 496.3 L337.2 496.1 L338.2 495.8 L339.2 495.5 L340.2 495.1 L341.2 494.8 L342.2 494.4 L343.2 494.0 L344.2 493.6 L345.2 493.2 L346.2 492.8 L347.2 492.3 L348.2 491.9 L349.2 491.4 L350.2 491.0 L351.2 490.6 L352.2 490.1 L353.2 489.7 L354.2 489.3 L355.2 488.9 L356.2 488.5 L357.2 488.1 L358.2 487.7 L359.2 487.4 L360.2 487.0 L361.2 486.7 L362.2 486.4 L363.2 486.1 L364.2 485.9 L365.2 485.6 L366.2 485.4 L367.2 485.2 L368.2 485.1 L369.2 485.0 L370.2 484.9 L371.2 484.9 L372.2 484.8 L373.2 484.9 L374.2 484.9 L375.2 485.0 L376.2 485.2 L377.2 485.4 L378.2 485.7 L379.2 486.0 L380.2 486.3 L381.2 486.7 L382.2 487.2 L383.2 487.8 L384.2 488.4 L385.2 489.0 L386.2 489.8 L387.2 490.6 L388.2 491.4 L389.2 492.4 L390.2 493.4 L391.2 494.5 L392.2 495.7 L393.2 496.9 L394.2 498.3 L395.2 499.7 L396.2 501.2 L397.2 502.7 L398.2 504.4 L399.2 506.1 L400.2 507.9 L401.2 509.8 L402.2 511.8 L403.2 513.9 L404.2 516.0 L405.2 518.3 L406.2 520.6 L407.2 522.9 L408.2 525.4 L409.2 527.9 L410.2 530.5 L411.2 533.2 L412.2 536.0 L413.2 538.8 L414.2 541.7 L415.2 544.6 L416.2 547.7 L417.2 550.7 L418.2 553.9 L419.2 557.1 L420.2 560.3 L421.2 563.6 L422.2 566.9 L423.2 570.2 L424.2 573.6 L425.2 577.0 L426.2 580.4 L427.2 583.9 L428.2 587.3 L429.2 590.8 L430.2 594.2 L431.2 597.6 L432.2 601.0 L433.2 604.3 L434.2 607.6 L435.2 610.8 L436.2 614.0 L437.2 617.1 L438.2 620.1 L439.2 623.0 L440.2 625.7 L441.2 628.4 L442.2 630.9 L443.2 633.3 L444.2 635.5 L445.2 637.5 L446.2 639.3 L447.2 641.0 L448.2 642.4 L449.2 643.7 L450.2 644.7 L451.2 645.4 L452.2 646.0 L453.2 646.2 L454.2 646.2 L455.2 646.0 L456.2 645.4 L457.2 644.6 L458.2 643.5 L459.2 642.1 L460.2 640.5 L461.2 638.5 L462.2 636.3 L463.2 633.7 L464.2 630.9 L465.2 627.8 L466.2 624.4 L467.2 620.8 L468.2 616.9 L469.2 612.7 L470.2 608.3 L471.2 603.7 L472.2 598.8 L473.2 593.7 L474.2 588.4 L475.2 582.9 L476.2 577.2 L477.2 571.3 L478.2 565.3 L479.2 559.2 L480.2 552.9 L481.2 546.5 L482.2 540.0 L483.2 533.5 L484.2 526.8 L485.2 520.1 L486.2 513.4 L487.2 506.7 L488.2 499.9 L489.2 493.2 L490.2 486.5 L491.2 479.8 L492.2 473.2 L493.2 466.7 L494.2 460.2 L495.2 453.8 L496.2 447.6 L497.2 441.4 L498.2 435.4 L499.2 429.6 L500.2 423.9 L501.2 418.3 L502.2 413.0 L503.2 407.8 L504.2 402.8 L505.2 398.0 L506.2 393.5 L507.2 389.1 L508.2 385.0 L509.2 381.2 L510.2 377.5 L511.2 374.1 L512.2 371.0 L513.2 368.1 L514.2 365.5 L515.2 363.1 L516.2 361.0 L517.2 359.2 L518.2 357.6 L519.2 356.3 L520.2 355.2 L521.2 354.4 L522.2 353.9 L523.2 353.6 L524.2 353.5 L525.2 353.7 L526.2 354.1 L527.2 354.8 L528.2 355.7 L529.2 356.8 L530.2 358.1 L531.2 359.6 L532.2 361.2 L533.2 363.1 L534.2 365.1 L535.2 367.3 L536.2 369.7 L537.2 372.1 L538.2 374.7 L539.2 377.4 L540.2 380.3 L541.2 383.2 L542.2 386.2 L543.2 389.2 L544.2 392.3 L545.2 395.5 L546.2 398.7 L547.2 401.9 L548.2 405.2 L549.2 408.4 L550.2 411.7 L551.2 414.9 L552.2 418.2 L553.2 421.4 L554.2 424.6 L555.2 427.7 L556.2 430.8 L557.2 433.8 L558.2 436.8 L559.2 439.8 L560.2 442.7 L561.2 445.5 L562.2 448.2 L563.2 450.9 L564.2 453.5 L565.2 456.1 L566.2 458.5 L567.2 460.9 L568.2 463.2 L569.2 465.5 L570.2 467.6 L571.2 469.7 L572.2 471.7 L573.2 473.6 L574.2 475.4 L575.2 477.2 L576.2 478.9 L577.2 480.4 L578.2 482.0 L579.2 483.4 L580.2 484.8 L581.2 486.1 L582.2 487.3 L583.2 488.4 L584.2 489.5 L585.2 490.4 L586.2 491.3 L587.2 492.2 L588.2 492.9 L589.2 493.6 L590.2 494.3 L591.2 494.8 L592.2 495.3 L593.2 495.7 L594.2 496.1 L595.2 496.4 L596.2 496.6 L597.2 496.8 L598.2 496.9 L599.2 497.0 L600.2 497.0 L601.2 497.0 L602.2 496.9 L603.2 496.8 L604.2 496.6 L605.2 496.4 L606.2 496.2 L607.2 495.9 L608.2 495.6 L609.2 495.3 L610.2 494.9 L611.2 494.6 L612.2 494.2 L613.2 493.8 L614.2 493.4 L615.2 492.9 L616.2 492.5 L617.2 492.1 L618.2 491.6 L619.2 491.2 L620.2 490.7 L621.2 490.3 L622.2 489.9 L623.2 489.4 L624.2 489.0 L625.2 488.6 L626.2 488.2 L627.2 487.9 L628.2 487.5 L629.2 487.1 L630.2 486.8 L631.2 486.5 L632.2 486.2 L633.2 486.0 L634.2 485.7 L635.2 485.5 L636.2 485.3 L637.2 485.2 L638.2 485.0 L639.2 484.9 L640.2 484.9 L641.2 484.8 L642.2 484.9 L643.2 484.9 L644.2 485.0 L645.2 485.1 L646.2 485.3 L647.2 485.6 L648.2 485.8 L649.2 486.2 L650.2 486.6 L651.2 487.0 L652.2 487.5 L653.2 488.1 L654.2 488.8 L655.2 489.5 L656.2 490.2 L657.2 491.1 L658.2 492.0 L659.2 493.0 L660.2 494.0 L661.2 495.2 L662.2 496.4 L663.2 497.7 L664.2 499.1 L665.2 500.5 L666.2 502.1 L667.2 503.7 L668.2 505.4 L669.2 507.2 L670.2 509.1 L671.2 511.0 L672.2 513.0 L673.2 515.2 L674.2 517.4 L675.2 519.6 L676.2 522.0 L677.2 524.4 L678.2 526.9 L679.2 529.5 L680.2 532.1 L681.2 534.9 L682.2 537.7 L683.2 540.5 L684.2 543.5 L685.2 546.4 L686.2 549.5 L687.2 552.6 L688.2 555.8 L689.2 559.0 L690.2 562.2 L691.2 565.5 L692.2 568.9 L693.2 572.3 L694.2 575.7 L695.2 579.1 L696.2 582.5 L697.2 585.9 L698.2 589.4 L699.2 592.8 L700.2 596.2 L701.2 599.6 L702.2 603.0 L703.2 606.3 L704.2 609.5 L705.2 612.7 L706.2 615.8 L707.2 618.9 L708.2 621.8 L709.2 624.6 L710.2 627.3 L711.2 629.9 L712.2 632.3 L713.2 634.6 L714.2 636.7 L715.2 638.6 L716.2 640.4 L717.2 641.9 L718.2 643.2 L719.2 644.3 L720.2 645.2 L721.2 645.8 L722.2 646.1 L723.2 646.3 L724.2 646.1 L725.2 645.7 L726.2 645.0 L727.2 644.0 L728.2 642.7 L729.2 641.2 L730.2 639.3 L731.2 637.2 L732.2 634.8 L733.2 632.1 L734.2 629.1 L735.2 625.8 L736.2 622.3 L737.2 618.5 L738.2 614.4 L739.2 610.1 L740.2 605.5 L741.2 600.8 L742.2 595.7 L743.2 590.5 L744.2 585.1 L745.2 579.5 L746.2 573.7 L747.2 567.7 L748.2 561.6 L749.2 555.4 L750.2 549.1 L751.2 542.6 L752.2 536.1 L753.2 529.5 L754.2 522.8 L755.2 516.1 L756.2 509.4 L757.2 502.6 L758.2 495.9 L759.2 489.2 L760.2 482.5 L761.2 475.9 L762.2 469.3 L763.2 462.8 L764.2 456.4 L765.2 450.1 L766.2 443.9 L767.2 437.8 L768.2 431.9 L769.2 426.1 L770.2 420.5 L771.2 415.1 L772.2 409.8 L773.2 404.8 L774.2 399.9 L775.2 395.3 L776.2 390.8 L777.2 386.6 L778.2 382.7 L779.2 379.0 L780.2 375.5 L781.2 372.2 L782.2 369.2 L783.2 366.5 L784.2 364.0 L785.2 361.8 L786.2 359.9 L787.2 358.2 L788.2 356.8 L789.2 355.6 L790.2 354.7 L791.2 354.1 L792.2 353.7 L793.2 353.5 L794.2 353.6 L795.2 353.9 L796.2 354.5 L797.2 355.3 L798.2 356.3 L799.2 357.5 L800.2 358.9 L801.2 360.6 L802.2 362.3 L803.2 364.3 L804.2 366.4 L805.2 368.7 L806.2 371.1 L807.2 373.7 L808.2 376.4 L809.2 379.1 L810.2 382.0 L811.2 385.0 L812.2 388.0 L813.2 391.1 L814.2 394.2 L815.2 397.4 L816.2 400.6 L817.2 403.9 L818.2 407.1 L819.2 410.4 L820.2 413.6 L821.2 416.9 L822.2 420.1 L823.2 423.3 L824.2 426.4 L825.2 429.6 L826.2 432.6 L827.2 435.7 L828.2 438.6 L829.2 441.5 L830.2 444.4 L831.2 447.2 L832.2 449.9 L833.2 452.5 L834.2 455.1 L835.2 457.6 L836.2 460.0 L837.2 462.3 L838.2 464.6 L839.2 466.8 L840.2 468.9 L841.2 470.9 L842.2 472.8 L843.2 474.7 L844.2 476.5 L845.2 478.2 L846.2 479.8 L847.2 481.4 L848.2 482.8 L849.2 484.2 L850.2 485.5 L851.2 486.8 L852.2 488.0 L853.2 489.0 L854.2 490.1 L855.2 491.0 L856.2 491.9 L857.2 492.6 L858.2 493.4 L859.2 494.0 L860.2 494.6 L861.2 495.1 L862.2 495.6 L863.2 496.0 L864.2 496.3 L865.2 496.5 L866.2 496.7 L867.2 496.9 L868.2 497.0 L869.2 497.0 L870.2 497.0 L871.2 496.9 L872.2 496.8 L873.2 496.7 L874.2 496.5 L875.2 496.3 L876.2 496.0 L877.2 495.7 L878.2 495.4 L879.2 495.1 L880.2 494.7 L881.2 494.3 L882.2 493.9 L883.2 493.5 L884.2 493.1 L885.2 492.7 L886.2 492.2 L887.2 491.8 L888.2 491.4 L889.2 490.9 L890.2 490.5 L891.2 490.0 L892.2 489.6 L893.2 489.2 L894.2 488.8 L895.2 488.4 L896.2 488.0 L897.2 487.6 L898.2 487.3 L899.2 486.9 L900.2 486.6 L901.2 486.3 L902.2 486.1 L903.2 485.8 L904.2 485.6 L905.2 485.4 L906.2 485.2 L907.2 485.1 L908.2 485.0 L909.2 484.9 L910.2 484.8 L911.2 484.8 L912.2 484.9 L913.2 485.0 L914.2 485.1 L915.2 485.2 L916.2 485.5 L917.2 485.7 L918.2 486.0 L919.2 486.4 L920.2 486.8 L921.2 487.3 L921.5 487.5"/>
</g>
<path class="ax" d="M277.91 0.60L277.91 8.60M277.91 331.00L277.91 323.00M277.91 331.00L277.91 339.00M277.91 660.80L277.91 652.80M406.62 0.60L406.62 16.30M406.62 331.00L406.62 315.30M406.62 331.00L406.62 346.70M406.62 660.80L406.62 645.10M535.33 0.60L535.33 8.60M535.33 331.00L535.33 323.00M535.33 331.00L535.33 339.00M535.33 660.80L535.33 652.80M664.03 0.60L664.03 16.30M664.03 331.00L664.03 315.30M664.03 331.00L664.03 346.70M664.03 660.80L664.03 645.10M792.74 0.60L792.74 8.60M792.74 331.00L792.74 323.00M792.74 331.00L792.74 339.00M792.74 660.80L792.74 652.80M149.20 286.95L164.90 286.95M921.45 286.95L905.75 286.95M149.20 231.88L157.20 231.88M921.45 231.88L913.45 231.88M149.20 176.81L164.90 176.81M921.45 176.81L905.75 176.81M149.20 121.75L157.20 121.75M921.45 121.75L913.45 121.75M149.20 66.68L164.90 66.68M921.45 66.68L905.75 66.68M149.20 11.61L157.20 11.61M921.45 11.61L913.45 11.61M149.20 633.32L164.90 633.32M921.45 633.32L905.75 633.32M149.20 564.61L157.20 564.61M921.45 564.61L913.45 564.61M149.20 495.90L164.90 495.90M921.45 495.90L905.75 495.90M149.20 427.19L157.20 427.19M921.45 427.19L913.45 427.19M149.20 358.48L164.90 358.48M921.45 358.48L905.75 358.48"/>
<path class="fr" d="M149.2 0.6H921.45V660.8H149.2Z M149.2 331.0H921.45"/>
<g>
<text transform="translate(142.0 79.9) scale(1.025 1)" text-anchor="end" letter-spacing="-1.1">0.98</text>
<text transform="translate(142.0 190.0) scale(1.025 1)" text-anchor="end" letter-spacing="-1.1">0.975</text>
<text transform="translate(142.0 300.1) scale(1.025 1)" text-anchor="end" letter-spacing="-1.1">0.97</text>
<text transform="translate(142.0 371.7) scale(1.025 1)" text-anchor="end" letter-spacing="-1.1">0.05</text>
<text transform="translate(142.0 509.1) scale(1.025 1)" text-anchor="end" letter-spacing="-1.1">0</text>
<text transform="translate(142.0 646.5) scale(1.025 1)" text-anchor="end" letter-spacing="-1.1">-0.05</text>
<text transform="translate(149.2 695.0) scale(1.025 1)" text-anchor="middle" letter-spacing="-1.1">500</text>
<text transform="translate(406.6 695.0) scale(1.025 1)" text-anchor="middle" letter-spacing="-1.1">502</text>
<text transform="translate(664.0 695.0) scale(1.025 1)" text-anchor="middle" letter-spacing="-1.1">504</text>
<text transform="translate(921.5 695.0) scale(1.025 1)" text-anchor="middle" letter-spacing="-1.1">506</text>
<text transform="translate(535.3 730.3) scale(0.985 1)" text-anchor="middle">Time</text>
</g>
<g transform="translate(27.2 166.3) rotate(-90)">
<text transform="translate(-36.50 0) scale(0.965 1)">P</text>
<text class="sub" transform="translate(-15.04 15.9) scale(1.0560 1)">g</text>
<text class="par" transform="translate(-1.05 -2.5) scale(1.0489 1)">(</text>
<text transform="translate(11.81 0) scale(0.965 1)">t</text>
<text class="par" transform="translate(22.54 -2.5) scale(1.0489 1)">)</text>
</g>
<g transform="translate(40.2 496.0) rotate(-90)">
<text transform="translate(-31.60 0) scale(0.965 1)">I</text>
<text class="sub" transform="translate(-18.75 14.8) scale(1.0560 1)">h</text>
<text class="par" transform="translate(-4.75 -2.5) scale(1.0489 1)">(</text>
<text transform="translate(8.10 0) scale(0.965 1)">t</text>
<text class="par" transform="translate(18.83 -2.5) scale(1.0489 1)">)</text>
</g>
<path class="cv" stroke="#000" d="M562.3 371.6H593.8"/>
<path class="cv" stroke="#cc2027" d="M562.3 411.8H593.8"/>
<text transform="translate(609.5 385.2) scale(0.965 1)">HEOM</text>
<text transform="translate(609.5 430.8) scale(0.965 1)">Redfield<tspan class="sup" dx="1.8" dy="-21.3">+</tspan></text>
</svg>
</body>
</html>
